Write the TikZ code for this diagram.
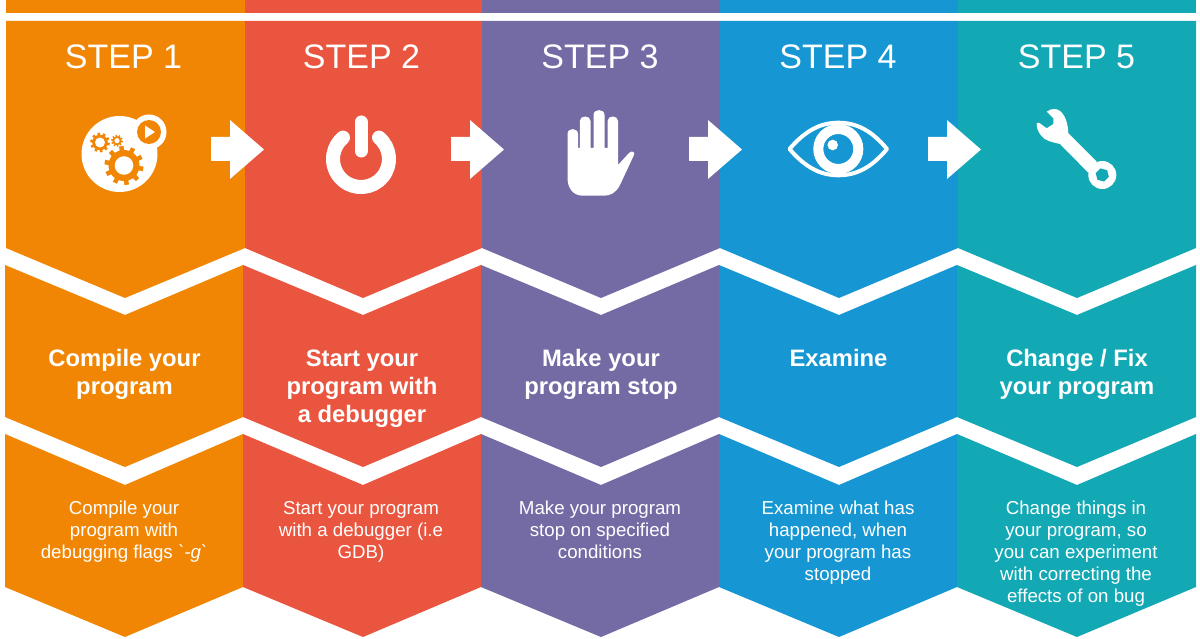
\documentclass[tikz,border=0pt]{standalone}
\usepackage{fontspec}
\setmainfont{Liberation Sans}
\newfontfamily\flagfont{Liberation Sans}
\definecolor{stepone}{HTML}{F18604}
\definecolor{steptwo}{HTML}{E9553F}
\definecolor{stepthree}{HTML}{746BA5}
\definecolor{stepfour}{HTML}{1696D2}
\definecolor{stepfive}{HTML}{12A8B4}
\tikzset{
    steptitle/.style={text=white, inner sep=0pt, anchor=north, align=center, execute at begin node=\strut, font=\fontsize{34}{40}\selectfont},
    stepname/.style={text=white, inner sep=0pt, anchor=north, align=center, execute at begin node=\strut, font=\fontsize{23.8}{28}\selectfont\bfseries},
    stepdesc/.style={text=white, inner sep=0pt, anchor=north, align=center, execute at begin node=\strut, font=\fontsize{18.7}{22}\selectfont},
}

\begin{document}
\begin{tikzpicture}[x=1pt, y=-1pt]
    \useasboundingbox (0, 0) rectangle (1200, 639);
    \fill[white] (0, 0) rectangle (1200, 639);

    % colour columns
    \foreach \col/\xa/\xb/\xc/\xd/\xm in {stepone/6/245/5/243/125, steptwo/245/482/243/481/363, stepthree/482/720/481/719/601, stepfour/720/958/719/957/839, stepfive/958/1196/957/1196/1077} {
        \fill[\col] (\xa, 0) rectangle (\xb, 13);
        \fill[\col] (\xa, 21) -- (\xb, 21) -- (\xb, 248) -- (\xm, 298) -- (\xa, 248) -- cycle;
        \fill[\col] (\xc, 265) -- (\xm, 315) -- (\xd, 265) -- (\xd, 417) -- (\xm, 467) -- (\xc, 417) -- cycle;
        \fill[\col] (\xc, 434) -- (\xm, 485) -- (\xd, 434) -- (\xd, 587) -- (\xm, 637) -- (\xc, 587) -- cycle;
    }

    % block arrows
    \foreach \ax in {211, 451, 689, 928} {
        \fill[white, shift={(\ax, 0)}] (0, 137) -- (19, 137) -- (19, 120) -- (53, 149.5) -- (19, 179) -- (19, 161) -- (0, 161) -- cycle;
    }

    % compile icon
    \fill[white] (119.5, 154) circle[radius=38];
    \fill[white] (149, 132) circle[radius=17.5];
    \fill[stepone] (149, 132) circle[radius=12];
    \fill[white] (145, 125.5) -- (155, 132) -- (145, 138.5) -- cycle;
    \foreach \gx/\gy/\gr/\gt/\gw/\gh in {124/165.5/15.5/19.5/4.5/9.3, 100/142.5/7.8/9.8/2.6/5, 117/140.7/4.6/5.9/1.5/2.6} {
        \fill[stepone] (\gx, \gy) circle[radius=\gr];
        \foreach \ga in {0, 36, ..., 324} {
            \draw[stepone, line width=\gw] (\gx, \gy) ++(\ga+10:\gr-1) -- ++(\ga+10:\gt-\gr+1);
        }
        \fill[white] (\gx, \gy) circle[radius=\gh];
    }

    % power icon
    \draw[white, line width=14, line cap=round] (379, 137.6) arc[start angle=-50, end angle=230, radius=28];
    \draw[white, line width=13, line cap=round] (361, 122) -- (361, 151);

    % hand icon
    \fill[white] (567.5, 134) .. controls (567.5, 127.5) and (578, 127.5) .. (578, 134) -- (578, 148) -- (579.8, 148) -- (579.8, 121)
        .. controls (579.8, 115) and (590.6, 115) .. (590.6, 121) -- (590.6, 148) -- (593.5, 148) -- (593.5, 115)
        .. controls (593.5, 108.5) and (604.5, 108.5) .. (604.5, 115) -- (604.5, 148) -- (607.6, 148) -- (607.6, 121)
        .. controls (607.6, 115) and (618, 115) .. (618, 121) -- (618, 165) -- (629, 153)
        .. controls (632, 150) and (636, 152) .. (633.5, 156) -- (620, 185)
        .. controls (616, 193) and (610, 195.7) .. (604, 195.7) -- (583, 195.7)
        .. controls (573, 195.7) and (567.5, 188) .. (567.5, 178) -- cycle;

    % eye icon
    \draw[white, line width=4, line join=round] (789.5, 149) .. controls (805, 131) and (820, 122.7) .. (838.3, 122.7) .. controls (857, 122.7) and (872, 131) .. (887, 149)
        .. controls (872, 167) and (857, 175.3) .. (838.3, 175.3) .. controls (820, 175.3) and (805, 167) .. (789.5, 149) -- cycle;
    \draw[white, line width=10] (838.3, 149) circle[radius=20];
    \fill[white] (832.7, 145) circle[radius=5.3];

    % wrench icon
    \fill[white] (1046.7, 111.7) .. controls (1049, 109.5) and (1052, 109) .. (1055, 109)
        .. controls (1062, 109.5) and (1068, 119) .. (1068.3, 133.3) -- (1096.7, 161.7) -- (1088.3, 172.7) -- (1060, 144)
        .. controls (1052, 142) and (1045, 141) .. (1041, 135.5) .. controls (1037.5, 131) and (1036.5, 127) .. (1036.7, 123.3)
        -- (1039, 122.7) -- (1046.7, 128.3) -- (1053.3, 124) -- (1053.3, 118.3) -- cycle;
    \fill[white] (1102.3, 175) circle[radius=14];
    \fill[stepfive] (1102.3, 175) +(15:6.8) -- +(75:6.8) -- +(135:6.8) -- +(195:6.8) -- +(255:6.8) -- +(315:6.8) -- cycle;

    % texts
    \node[steptitle] (step1) at (123.5, 40) {STEP 1};
    \node[steptitle] (step2) at (361.5, 40) {STEP 2};
    \node[steptitle] (step3) at (600, 40) {STEP 3};
    \node[steptitle] (step4) at (838, 40) {STEP 4};
    \node[steptitle] (step5) at (1076.5, 40) {STEP 5};

    \node[stepname] (name1) at (124.5, 349.4) {Compile your\\program};
    \node[stepname] (name2) at (362, 349.4) {Start your\\program with\\a debugger};
    \node[stepname] (name3) at (601, 349.4) {Make your\\program stop};
    \node[stepname] (name4) at (838.5, 346.4) {Examine};
    \node[stepname] (name5) at (1077, 349.4) {Change / Fix\\your program};

    \node[stepdesc] (desc1) at (124, 501) {Compile your\\program with\\debugging flags {\flagfont\itshape `-g`}};
    \node[stepdesc] (desc2) at (361, 501) {Start your program\\with a debugger (i.e\\GDB)};
    \node[stepdesc] (desc3) at (600, 501) {Make your program\\stop on specified\\conditions};
    \node[stepdesc] (desc4) at (838, 501) {Examine what has\\happened, when\\your program has\\stopped};
    \node[stepdesc] (desc5) at (1076, 501) {Change things in\\your program, so\\you can experiment\\with correcting the\\effects of on bug};
\end{tikzpicture}
\end{document}
